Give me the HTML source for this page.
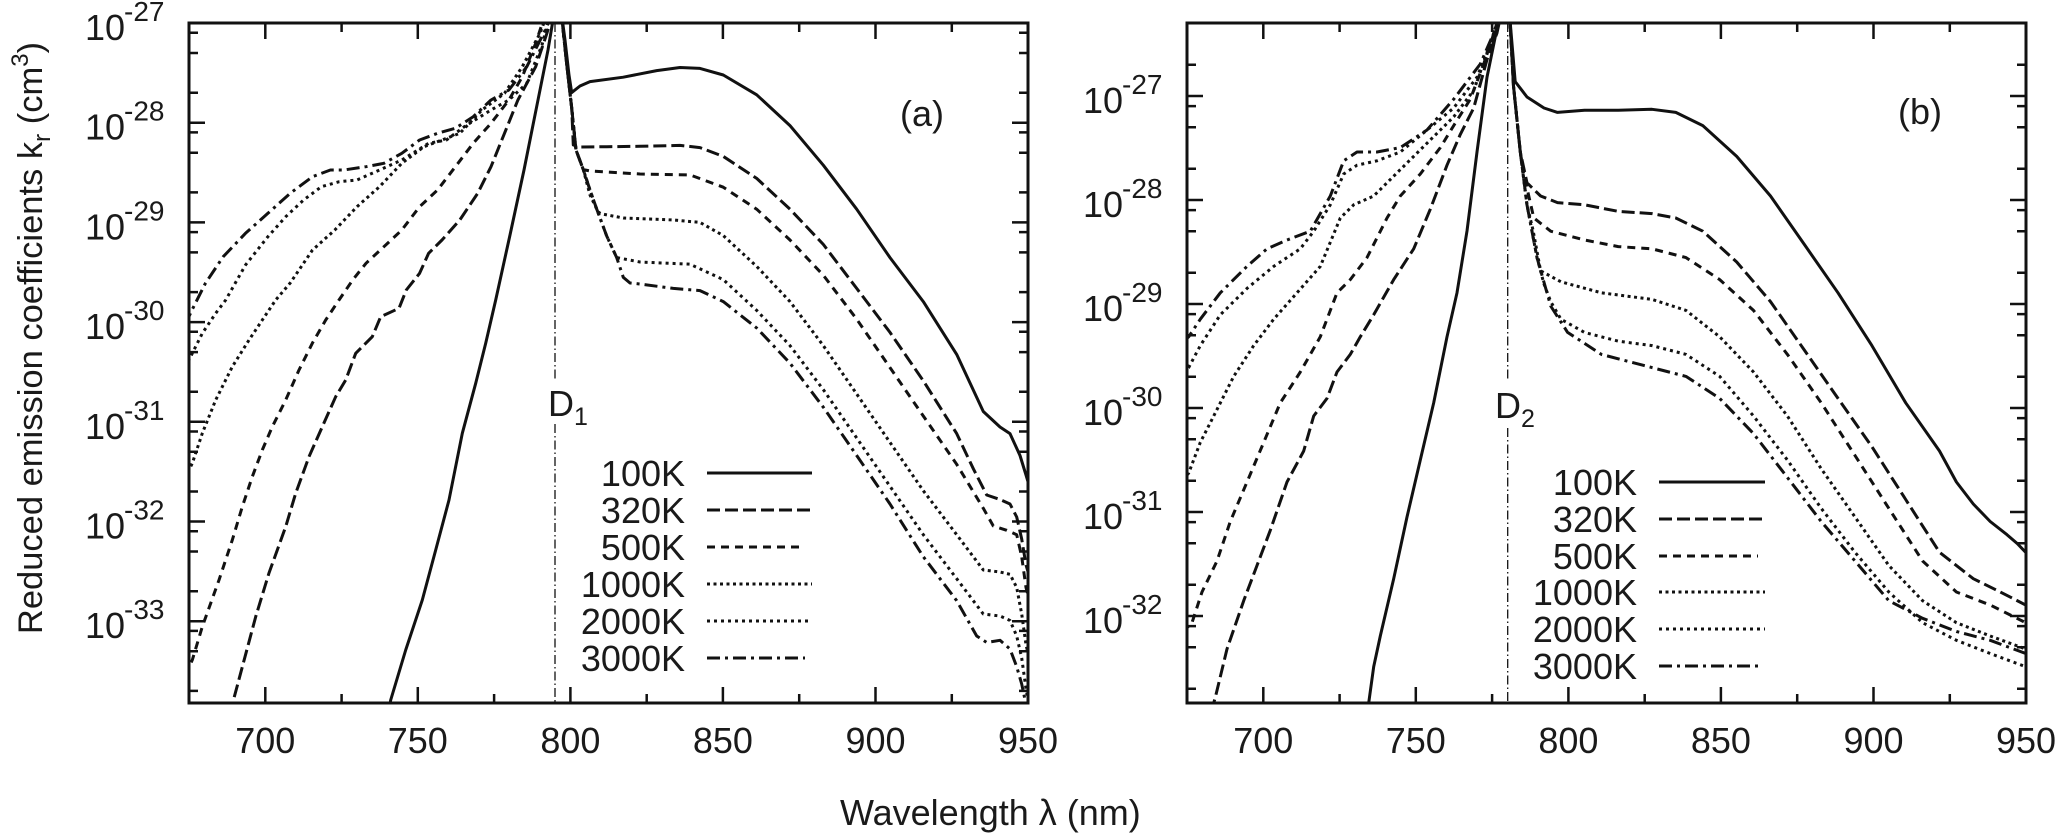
<!DOCTYPE html>
<html><head><meta charset="utf-8"><style>
html,body{margin:0;padding:0;background:#fff;}
svg{display:block;}
text{font-family:"Liberation Sans",Arial,sans-serif;fill:#1a1a1a;}
.c{fill:none;stroke:#111;stroke-width:3;stroke-linejoin:round;}
.fr{fill:none;stroke:#111;stroke-width:3;}
.tk{fill:none;stroke:#111;stroke-width:2.5;}
</style></head><body>
<svg width="2060" height="834" viewBox="0 0 2060 834" xmlns="http://www.w3.org/2000/svg">
<defs>
<clipPath id="ca"><rect x="189" y="23" width="839" height="680"/></clipPath>
<clipPath id="cb"><rect x="1187" y="23" width="839" height="680"/></clipPath>
</defs>

<!-- ===== Panel (a) ===== -->
<g clip-path="url(#ca)">
<path d="M555,23V380 M555,424V703" fill="none" stroke="#111" stroke-width="1.3" stroke-dasharray="9 3 1.5 3"/>
<polyline class="c" points="388,715 390.7,700 405.7,650 422.3,600 435.7,550 449,500 462.3,433.3 475.7,383.3 485.7,343.3 495.7,300 510,235 524,170 538,100 548,50 553,20 556,0 561,10 565,40 569,75 571.7,92.6 580,86 590,81.6 623.3,77.2 656.7,70.6 680,67.5 700,68.4 723.3,75 756.7,94.8 790,125.6 823.3,165.2 856.7,209.2 890,257.6 923.3,301.6 956.7,354.4 983.3,411.5 1000,427 1010,433.6 1020,455.5 1026,475 1032,495"/>
<polyline class="c" stroke-dasharray="13 5" points="232,715 234,698 255.7,616.7 269,573 285.7,526.7 295.7,493.3 309,456.7 322.3,426.7 335.7,396.7 345.7,380 355.7,353.3 372.3,336.7 380.7,316.7 399,308.3 406.3,290 419.6,273.3 428.6,253.3 442,240 459.8,220 477.7,193.3 491,166.7 504.5,133.3 517.9,100 535.7,66.7 546.9,33.3 552,15 556,0 561,10 566.7,64 571.7,108 573.3,145 580,147 606.7,146.7 640,146.3 680,145.4 700,147.6 723.3,156.4 756.7,178.4 790,209.2 823.3,244.4 856.7,288.4 890,332.4 923.3,380.8 956.7,433.6 973.3,468.7 986.7,495 1000,499.5 1010,504 1016.7,517 1021.7,539 1026,565 1032,585"/>
<polyline class="c" stroke-dasharray="8 6" points="185,675 192.3,660 202.3,626.7 219,580 232.3,540 242.3,506.7 252.3,476.7 262.3,450 272.3,426.7 285.7,400 299,370 312.3,343.3 325.7,320 339,300 352.7,280 366,263.3 383.9,246.7 401.8,230 419.6,206.7 437.5,190 455.4,166.7 473.2,143.3 491,123.3 508.9,100 522.3,76.7 535.7,43.3 545,15 556,0 561,10 566.7,64 571.7,108 576,150 583.3,169.6 590,171 640,174 690,174.9 723.3,187.2 756.7,209.2 790,240 823.3,275.2 856.7,319.2 890,367.6 923.3,416 956.7,464.3 983.3,508.3 993.3,526 1006.7,530.3 1016.7,534.7 1021.7,556.7 1026,587.5 1032,610"/>
<polyline class="c" stroke-dasharray="3 3.5" points="185,478 192.3,463.3 202.3,433.3 215.7,400 232.3,366.7 249,340 269,310 275.7,300 290.2,283 312.5,250 334.8,230 357,206.7 379.5,186.7 401.8,163.3 424,146.7 442,140 459.8,133.3 482,110 504.5,93.3 522.3,66.7 540,33.3 548,12 556,0 561,10 566.7,64 571.7,108 576,150 583.3,169.6 590,195 596.7,209 600,213.6 623.3,218 673.3,220 700,222.4 723.3,235.6 756.7,266.4 790,301.6 823.3,345.6 856.7,394 890,442.4 923.3,490.7 956.7,534.7 983.3,570 1000,572 1010,574.3 1016.7,587.5 1021.7,614 1026,644.7 1032,670"/>
<polyline class="c" stroke-dasharray="3 4" points="185,368 192.3,353.3 202.3,333.3 215.7,313.3 225.7,300 245.5,265 267.9,236.7 285.7,216.7 303.6,200 321.4,186.7 339.3,181.7 357,180 379.5,170 401.8,160 428.6,143.3 446.4,140 464.3,126.7 491,110 508.9,100 526.8,83.3 542,45 550,15 556,0 561,10 566.7,64 571.7,108 576,150 583.3,169.6 590,190 596.7,209 606.7,236 616.7,257.6 640,262 690,264.2 723.3,279.6 756.7,310.4 790,345.6 823.3,389.6 856.7,438 890,486.3 923.3,534.7 956.7,578.7 983.3,614 1000,616 1010,620.5 1016.7,636 1021.7,658 1026,688.7 1030,710"/>
<polyline class="c" stroke-dasharray="13 5 3 5" points="185,325 192,310 205.4,283.3 223.2,256.7 245.5,233.3 267.9,213.3 290.2,193.3 312.5,176.7 330.4,170 343.8,170 366,166.7 383.9,163.3 401.8,153.3 419.6,140 437.5,133.3 455.4,128.3 473.2,116.7 491,100 508.9,90 526.8,66.7 546.9,26.7 556,0 561,10 566.7,64 571.7,108 576,150 583.3,169.6 590,190 596.7,209 606.7,236 616.7,257.6 623.3,277.4 630,283 640,284 673.3,288.4 700,290.6 723.3,301.6 756.7,328 790,363.2 823.3,407.2 856.7,455.5 890,504 923.3,556.7 956.7,600.7 976.7,636 986.7,642.5 1000,640.3 1010,649 1016.7,666.7 1021.7,684 1025,699.7 1028,712"/>
</g>
<rect class="fr" x="189" y="23" width="839" height="680"/>
<path class="tk" d="M265.3,703v-16M417.8,703v-16M570.4,703v-16M722.9,703v-16M875.5,703v-16
M341.6,703v-9M494.1,703v-9M646.7,703v-9M799.2,703v-9M951.8,703v-9
M265.3,23v16M417.8,23v16M570.4,23v16M722.9,23v16M875.5,23v16
M341.6,23v9M494.1,23v9M646.7,23v9M799.2,23v9M951.8,23v9
M189,122.7h16M189,222.4h16M189,322.1h16M189,421.8h16M189,521.5h16M189,621.2h16
M1028,122.7h-16M1028,222.4h-16M1028,322.1h-16M1028,421.8h-16M1028,521.5h-16M1028,621.2h-16
M189,32.7h9M189,53h9M189,92.7h9M189,132.4h9M189,152.7h9M189,192.4h9M189,232.1h9M189,252.4h9M189,292.1h9M189,331.8h9M189,352.1h9M189,391.8h9M189,431.5h9M189,451.8h9M189,491.5h9M189,531.2h9M189,551.5h9M189,591.2h9M189,630.9h9M189,651.2h9M189,690.9h9
M1028,32.7h-9M1028,53h-9M1028,92.7h-9M1028,132.4h-9M1028,152.7h-9M1028,192.4h-9M1028,232.1h-9M1028,252.4h-9M1028,292.1h-9M1028,331.8h-9M1028,352.1h-9M1028,391.8h-9M1028,431.5h-9M1028,451.8h-9M1028,491.5h-9M1028,531.2h-9M1028,551.5h-9M1028,591.2h-9M1028,630.9h-9M1028,651.2h-9M1028,690.9h-9"/>

<!-- y tick labels (a) -->
<g font-size="36" text-anchor="end">
<text x="125" y="40">10</text>
<text x="125" y="139.7">10</text>
<text x="125" y="239.4">10</text>
<text x="125" y="339.1">10</text>
<text x="125" y="438.8">10</text>
<text x="125" y="538.5">10</text>
<text x="125" y="638.2">10</text>
</g>
<g font-size="28">
<text x="124" y="21">-27</text>
<text x="124" y="120.7">-28</text>
<text x="124" y="220.4">-29</text>
<text x="124" y="320.1">-30</text>
<text x="124" y="419.8">-31</text>
<text x="124" y="519.5">-32</text>
<text x="124" y="619.2">-33</text>
</g>
<!-- x tick labels (a) -->
<g font-size="36" text-anchor="middle">
<text x="265.3" y="753">700</text>
<text x="417.8" y="753">750</text>
<text x="570.4" y="753">800</text>
<text x="722.9" y="753">850</text>
<text x="875.5" y="753">900</text>
<text x="1028" y="753">950</text>
</g>
<text x="922" y="126" font-size="36" text-anchor="middle">(a)</text>
<text x="548" y="416" font-size="36">D<tspan font-size="25" dy="9">1</tspan></text>

<!-- legend (a) -->
<g font-size="36" text-anchor="end">
<text x="685" y="486">100K</text>
<text x="685" y="523">320K</text>
<text x="685" y="560">500K</text>
<text x="685" y="597">1000K</text>
<text x="685" y="634">2000K</text>
<text x="685" y="671">3000K</text>
</g>
<path class="c" d="M707,473H812"/>
<path class="c" stroke-dasharray="13 5" d="M707,510H812"/>
<path class="c" stroke-dasharray="8 6" d="M707,547H805"/>
<path class="c" stroke-dasharray="3 3.5" d="M707,584H812"/>
<path class="c" stroke-dasharray="3 4" d="M707,621H812"/>
<path class="c" stroke-dasharray="13 5 3 5" d="M707,658H805"/>

<!-- ===== Panel (b) ===== -->
<g clip-path="url(#cb)">
<path d="M1507.7,23V380 M1507.7,428V703" fill="none" stroke="#111" stroke-width="1.3" stroke-dasharray="9 3 1.5 3"/>
<polyline class="c" points="1366,715 1368.7,703 1373.7,666.7 1380.3,636 1393.7,578.7 1407,517 1420.3,460 1433.7,402.8 1447,336.8 1457,292.8 1467,231 1477,152 1487,77.2 1498.7,20 1504,0 1510,20 1515.2,81.6 1527,97 1544,108 1557.5,112.4 1584.5,110.2 1618.3,110.2 1652,109.3 1675.8,112.4 1702.8,125.6 1736.7,156.4 1770.5,196 1804.3,244.4 1838,292.8 1871.9,345.6 1905.7,402.8 1939.5,451 1956.4,482 1973.3,504 1990.2,521.5 2007,534.7 2017.2,543.5 2025.7,552.3 2032,558"/>
<polyline class="c" stroke-dasharray="13 5" points="1211,712 1215.3,697.5 1227,649 1243.7,600.7 1257,565.5 1270.3,530.3 1287,482 1303.7,451 1313.7,416 1327,398.4 1337,372 1350.3,354.4 1360.3,336.8 1373.7,314.8 1393.7,279.6 1413.7,248.8 1430.3,209.2 1447,165.2 1460.3,134.4 1473.7,108 1487,59.6 1497,33 1504,0 1510,20 1513.5,86 1520.3,152 1527,182.8 1540.6,196 1557.5,202.6 1584.5,204.8 1618.3,211.4 1652,213.6 1675.8,218 1702.8,231.2 1736.7,262 1770.5,301.6 1804.3,350 1838,398.4 1871.9,446.7 1905.7,499.5 1939.5,552.3 1973.3,578.7 2000.3,592 2025.7,605 2032,608"/>
<polyline class="c" stroke-dasharray="8 6" points="1183,632 1192,622.7 1202,592 1217,561 1230.3,521.5 1247,482 1263.7,442.4 1280.3,402.8 1300.3,372 1320.3,336.8 1337,292.8 1350.3,279.6 1367,257.6 1387,218 1400.3,196 1420.3,174 1440.3,147.6 1453.7,125.6 1470.3,99.2 1483.7,64 1495,30 1504,0 1510,20 1513.5,86 1520.3,152 1524,175 1533.8,218 1550.7,231.2 1584.5,240 1618.3,246.6 1652,248.8 1686,257.6 1719.7,279.6 1753.5,310.4 1787.4,354.4 1821.2,402.8 1855,455.5 1888.8,508.3 1922.6,561 1956.4,592 1990.2,605 2025.7,622.7 2032,625"/>
<polyline class="c" stroke-dasharray="3 3.5" points="1183,480 1188.7,473 1200.3,442.4 1213.7,416 1233.7,376.4 1253.7,345.6 1273.7,319.2 1297,292.8 1320.3,266.4 1340.3,218 1353.7,204.8 1373.7,196 1400.3,169.6 1427,143.2 1453.7,116.8 1473.7,90.4 1490,45 1504,0 1510,20 1513.5,86 1520.3,152 1527,205 1533,230 1540.6,270.8 1560.9,281.8 1601.4,292.8 1652,299.4 1686,310.4 1719.7,336.8 1753.5,372 1787.4,416 1821.2,468.7 1855,517 1888.8,565.5 1922.6,600.7 1956.4,622.7 1990.2,636 2025.7,649 2032,651"/>
<polyline class="c" stroke-dasharray="3 4" points="1183,372 1188.7,367.5 1200.3,345.6 1220.3,314.8 1247,288.4 1273.7,266.4 1300.3,248.8 1313.7,231.2 1330.3,204.8 1343.7,174 1357,165.2 1377,160.8 1400.3,152 1427,130 1453.7,108 1477,77.2 1492,40 1504,0 1510,20 1513.5,86 1520.3,152 1527,205 1537,257.6 1544,284 1550.7,301.6 1560.9,319.2 1584.5,332.4 1618.3,341.2 1652,345.6 1686,354.4 1719.7,376.4 1753.5,416 1787.4,460 1821.2,508.3 1855,552.3 1888.8,592 1922.6,622.7 1956.4,640.3 1990.2,653.5 2025.7,666.7 2032,669"/>
<polyline class="c" stroke-dasharray="13 5 3 5" points="1183,342 1188.7,336.8 1200.3,319.2 1220.3,292.8 1247,266.4 1267,248.8 1287,240 1310.3,231.2 1330.3,196 1343.7,160.8 1357,152 1377,152 1400.3,147.6 1427,130 1453.7,99.2 1480.3,64 1495,30 1504,0 1510,20 1513.5,86 1520.3,152 1527,205 1537,257.6 1550.7,306 1567.6,332.4 1601.4,354.4 1652,367.6 1686,376.4 1719.7,398.4 1753.5,433.6 1787.4,477.5 1821.2,521.5 1855,561 1888.8,600.7 1922.6,618.3 1956.4,631.5 1990.2,640.3 2025.7,653.5 2032,656"/>
</g>
<rect class="fr" x="1187" y="23" width="839" height="680"/>
<path class="tk" d="M1263.3,703v-16M1415.8,703v-16M1568.4,703v-16M1720.9,703v-16M1873.5,703v-16
M1339.6,703v-9M1492.1,703v-9M1644.7,703v-9M1797.2,703v-9M1949.8,703v-9
M1263.3,23v16M1415.8,23v16M1568.4,23v16M1720.9,23v16M1873.5,23v16
M1339.6,23v9M1492.1,23v9M1644.7,23v9M1797.2,23v9M1949.8,23v9
M1187,96h16M1187,200h16M1187,304h16M1187,408h16M1187,512h16M1187,616h16
M2026,96h-16M2026,200h-16M2026,304h-16M2026,408h-16M2026,512h-16M2026,616h-16
M1187,64.7h9M1187,106.1h9M1187,127.3h9M1187,168.7h9M1187,210.1h9M1187,231.3h9M1187,272.7h9M1187,314.1h9M1187,335.3h9M1187,376.7h9M1187,418.1h9M1187,439.3h9M1187,480.7h9M1187,522.1h9M1187,543.3h9M1187,584.7h9M1187,626.1h9M1187,647.3h9M1187,688.7h9
M2026,64.7h-9M2026,106.1h-9M2026,127.3h-9M2026,168.7h-9M2026,210.1h-9M2026,231.3h-9M2026,272.7h-9M2026,314.1h-9M2026,335.3h-9M2026,376.7h-9M2026,418.1h-9M2026,439.3h-9M2026,480.7h-9M2026,522.1h-9M2026,543.3h-9M2026,584.7h-9M2026,626.1h-9M2026,647.3h-9M2026,688.7h-9"/>

<!-- y tick labels (b) -->
<g font-size="36" text-anchor="end">
<text x="1123" y="113">10</text>
<text x="1123" y="217">10</text>
<text x="1123" y="321">10</text>
<text x="1123" y="425">10</text>
<text x="1123" y="529">10</text>
<text x="1123" y="633">10</text>
</g>
<g font-size="28">
<text x="1122" y="94">-27</text>
<text x="1122" y="198">-28</text>
<text x="1122" y="302">-29</text>
<text x="1122" y="406">-30</text>
<text x="1122" y="510">-31</text>
<text x="1122" y="614">-32</text>
</g>
<!-- x tick labels (b) -->
<g font-size="36" text-anchor="middle">
<text x="1263.3" y="753">700</text>
<text x="1415.8" y="753">750</text>
<text x="1568.4" y="753">800</text>
<text x="1720.9" y="753">850</text>
<text x="1873.5" y="753">900</text>
<text x="2026" y="753">950</text>
</g>
<text x="1920" y="124" font-size="36" text-anchor="middle">(b)</text>
<text x="1495" y="418" font-size="36">D<tspan font-size="25" dy="9">2</tspan></text>

<!-- legend (b) -->
<g font-size="36" text-anchor="end">
<text x="1637" y="495">100K</text>
<text x="1637" y="532">320K</text>
<text x="1637" y="569">500K</text>
<text x="1637" y="605">1000K</text>
<text x="1637" y="642">2000K</text>
<text x="1637" y="679">3000K</text>
</g>
<path class="c" d="M1659,482H1765"/>
<path class="c" stroke-dasharray="13 5" d="M1659,519H1765"/>
<path class="c" stroke-dasharray="8 6" d="M1659,556H1758"/>
<path class="c" stroke-dasharray="3 3.5" d="M1659,592H1765"/>
<path class="c" stroke-dasharray="3 4" d="M1659,629H1765"/>
<path class="c" stroke-dasharray="13 5 3 5" d="M1659,666H1758"/>

<!-- axis titles -->
<text x="840" y="825" font-size="36">Wavelength λ (nm)</text>
<text transform="translate(42,338) rotate(-90)" font-size="34.5" text-anchor="middle">Reduced emission coefficients k<tspan font-size="24" dy="8">r</tspan><tspan dy="-8"> (cm</tspan><tspan font-size="24" dy="-14">3</tspan><tspan dy="14">)</tspan></text>
</svg>
</body></html>
